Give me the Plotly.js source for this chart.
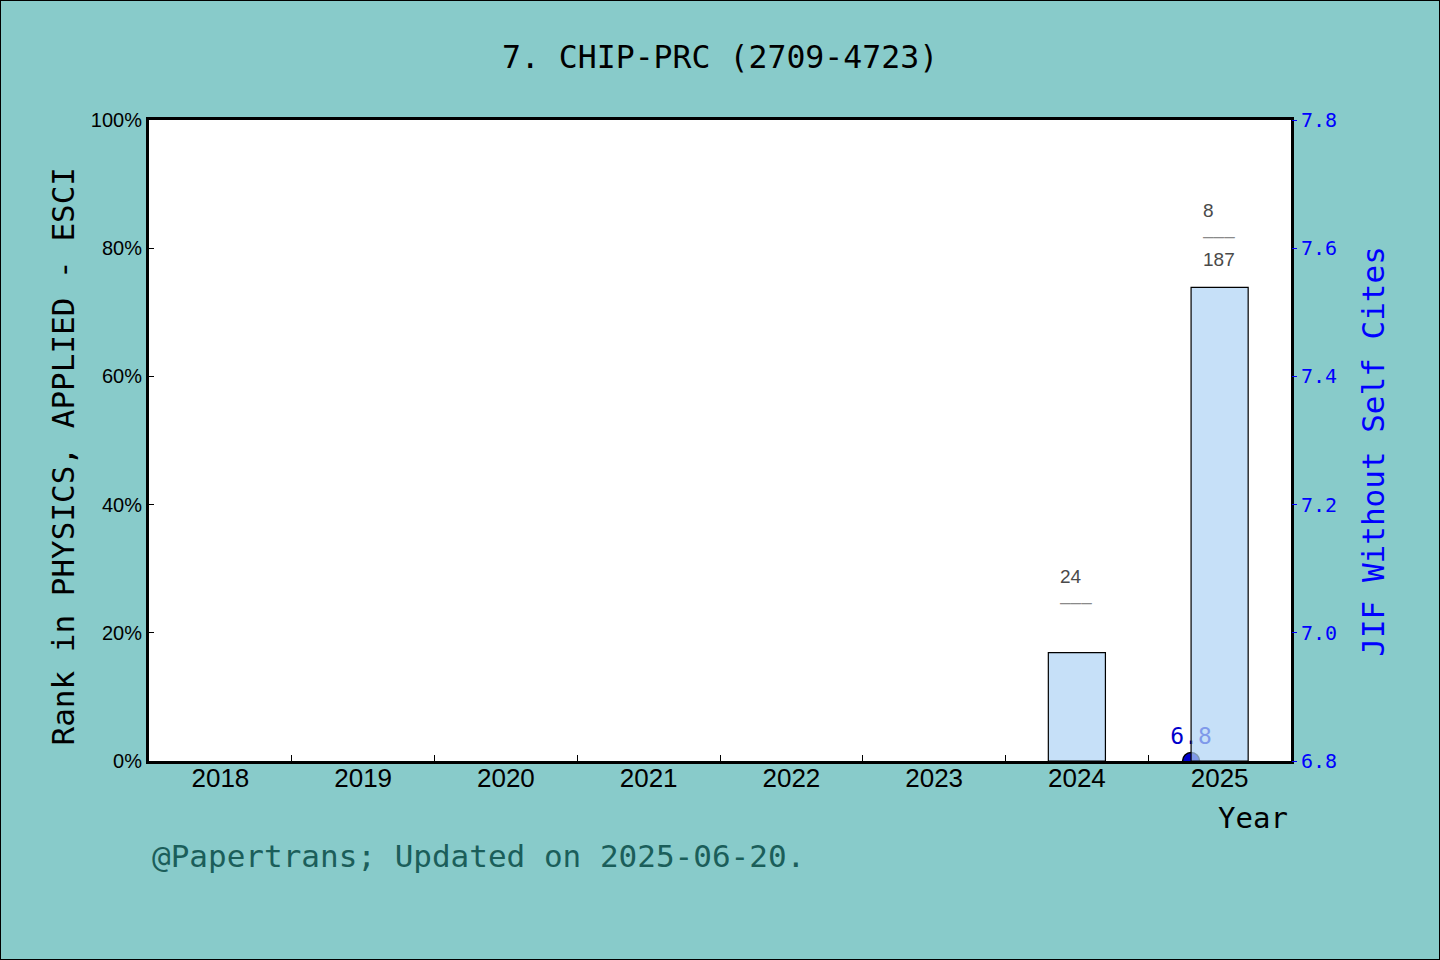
<!DOCTYPE html>
<html>
<head>
<meta charset="utf-8">
<script src="https://cdn.plot.ly/plotly-3.0.1.min.js"></script>
<style>
  body { margin: 0; background: #88cbca; }
  #chart { width: 1438px; height: 958px; border: 1px solid #000; }
</style>
</head>
<body>
<div id="chart"></div>
<script>
const years = [2018, 2019, 2020, 2021, 2022, 2023, 2024, 2025];
const rankPct = [null, null, null, null, null, null, 16.9, 73.9];
const rankNum = ['', '', '', '', '', '', '24', '8'];
const rankTotal = ['', '', '', '', '', '', '', '187'];
const jifYears = [2025];
const jifValues = [6.8];
const jifLabels = ['6.8'];

const mono = 'DejaVu Sans Mono, Liberation Mono, monospace';
const narrow = 'Liberation Sans Narrow, Liberation Sans, Arial, sans-serif';

// JIF dot sits on the left edge of its year's bar
const jifTrace = {
    x: jifYears.map(y => y - 0.2),
    y: jifValues,
    text: jifLabels,
    mode: 'markers+text',
    type: 'scatter',
    textposition: 'top center',
    textfont: { family: mono, size: 23, color: '#0000cc' },
    marker: { size: 17, color: '#0000cc', line: { color: '#000', width: 1.5 } },
    xaxis: 'x',
    yaxis: 'y',
    hoverinfo: 'skip',
    showlegend: false
};

const rankTrace = {
    x: years,
    y: rankPct,
    type: 'bar',
    width: 0.4,
    marker: {
        color: 'rgba(176, 212, 245, 0.72)',
        line: { color: '#000', width: 1.2 }
    },
    xaxis: 'x',
    yaxis: 'y2',
    showlegend: false
};

const barLabels = years
    .map((yr, i) => ({ yr, pct: rankPct[i], num: rankNum[i], tot: rankTotal[i] }))
    .filter(d => d.pct !== null)
    .map(d => ({
        x: d.yr - 0.13,
        y: d.pct + 8.1,
        xref: 'x',
        yref: 'y2',
        xanchor: 'left',
        yanchor: 'middle',
        align: 'left',
        showarrow: false,
        text: d.num + '<br><span style="color:#8a8a8a">–––</span><br>' + (d.tot || '&nbsp;'),
        font: { family: 'Liberation Sans, Arial, sans-serif', size: 19, color: '#4a4a4a' }
    }));

const layout = {
    width: 1438,
    height: 958,
    paper_bgcolor: '#88cbca',
    plot_bgcolor: '#ffffff',
    margin: { l: 148, r: 148, t: 119, b: 198 },
    title: {
        text: '7. CHIP-PRC (2709-4723)',
        font: { family: mono, size: 31.5, color: '#000' },
        x: 0.5,
        xanchor: 'center',
        y: 1 - 56 / 958,
        yref: 'container',
        yanchor: 'middle'
    },
    xaxis: {
        range: [2017.5, 2025.5],
        tickvals: years,
        ticktext: years.map(String),
        ticks: '',
        ticklabelstandoff: -8,
        showgrid: false,
        zeroline: false,
        showline: true,
        mirror: true,
        linewidth: 3,
        linecolor: '#000',
        tickfont: { family: 'Liberation Sans, Arial, sans-serif', size: 26, color: '#000' },
        minor: {
            tickmode: 'array',
            tickvals: years.slice(0, -1).map(y => y + 0.5),
            ticks: 'inside',
            ticklen: 6,
            tickwidth: 1,
            tickcolor: '#000',
            showgrid: false
        },
        fixedrange: true
    },
    yaxis: {
        side: 'right',
        range: [6.8, 7.8],
        tickvals: [6.8, 7.0, 7.2, 7.4, 7.6, 7.8],
        ticktext: ['6.8', '7.0', '7.2', '7.4', '7.6', '7.8'],
        ticks: 'outside',
        ticklen: 5,
        tickcolor: '#0000ff',
        tickfont: { family: mono, size: 20, color: '#0000ff' },
        showgrid: false,
        zeroline: false,
        showline: false
    },
    yaxis2: {
        overlaying: 'y',
        side: 'left',
        range: [0, 100],
        tickvals: [0, 20, 40, 60, 80, 100],
        ticktext: ['0%', '20%', '40%', '60%', '80%', '100%'],
        ticks: 'inside',
        ticklen: 5,
        tickcolor: '#000',
        tickfont: { family: narrow, size: 20, color: '#000' },
        showgrid: false,
        zeroline: false,
        showline: true,
        mirror: true,
        linewidth: 3,
        linecolor: '#000'
    },
    annotations: barLabels.concat([
        {
            text: 'Rank in PHYSICS, APPLIED - ESCI',
            xref: 'paper', yref: 'paper',
            x: -0.0753, y: 0.475,
            xanchor: 'center', yanchor: 'middle',
            textangle: -90,
            showarrow: false,
            font: { family: mono, size: 31, color: '#000' }
        },
        {
            text: 'JIF Without Self Cites',
            xref: 'paper', yref: 'paper',
            x: 1.0718, y: 0.484,
            xanchor: 'center', yanchor: 'middle',
            textangle: -90,
            showarrow: false,
            font: { family: mono, size: 31, color: '#0000ff' }
        },
        {
            text: 'Year',
            xref: 'paper', yref: 'paper',
            x: 0.967, y: -0.089,
            xanchor: 'center', yanchor: 'middle',
            showarrow: false,
            font: { family: mono, size: 29, color: '#000' }
        },
        {
            text: '@Papertrans; Updated on 2025-06-20.',
            xref: 'paper', yref: 'paper',
            x: 0.0009, y: -0.148,
            xanchor: 'left', yanchor: 'middle',
            showarrow: false,
            font: { family: mono, size: 31, color: '#1b5e5a' }
        }
    ])
};

Plotly.newPlot('chart', [jifTrace, rankTrace], layout, { displayModeBar: false, staticPlot: true });
</script>
</body>
</html>
